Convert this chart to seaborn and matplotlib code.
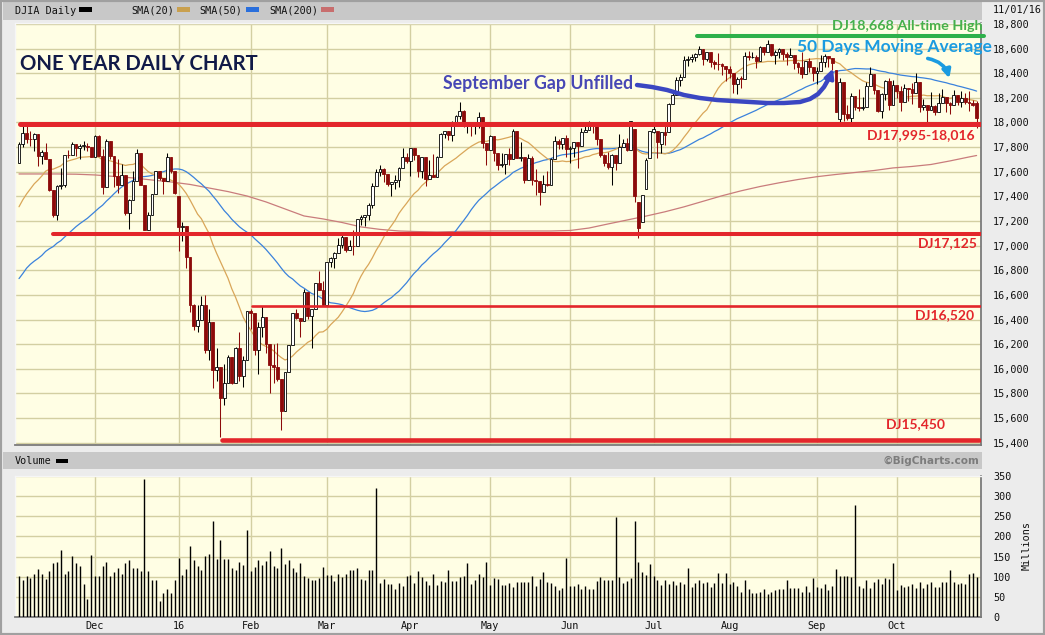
import numpy as np
import pandas as pd
import matplotlib
matplotlib.use("Agg")
import matplotlib.pyplot as plt
import seaborn as sns
from matplotlib.patches import Rectangle, FancyArrowPatch
from matplotlib.lines import Line2D

# ---------------- data (DJIA daily, Nov 2 2015 .. Nov 1 2016) ----------------
closes = [
    17828, 17918, 17867, 17863, 17910, 17730, 17758, 17702, 17448, 17245, 17484, 17490, 17738, 17733, 17824, 17792, 17813, 17813, 17798, 17720,
    17888, 17730, 17478, 17848, 17730, 17568, 17493, 17575, 17265, 17368, 17525, 17750, 17495, 17128, 17252, 17418, 17603, 17553, 17528, 17721, 17604, 17425,
    17149, 17158, 16907, 16515, 16347, 16399, 16516, 16152, 16380, 15988, 16016, 15766, 15882, 16094, 15886, 16167, 15944, 16069, 16466,
    16449, 16154, 16337, 16417, 16205, 16027, 16014, 15914, 15660, 15974, 16196, 16454, 16413, 16392, 16620, 16432, 16485, 16698, 16640, 16517,
    16866, 16900, 16944, 17007, 17074, 16964, 17001, 16995, 17213, 17229, 17251, 17326, 17481, 17602, 17623, 17583, 17502, 17516, 17536, 17633, 17717, 17685,
    17793, 17737, 17603, 17716, 17542, 17577, 17556, 17722, 17909, 17927, 17898, 18004, 18053, 18096, 17983, 18004, 17977, 17991, 18042, 17831, 17774,
    17891, 17751, 17652, 17661, 17741, 17706, 17928, 17711, 17721, 17535, 17711, 17530, 17527, 17436, 17501, 17493, 17706, 17851, 17828, 17873, 17787,
    17790, 17838, 17807, 17920, 17938, 18005, 17985, 17865, 17733, 17675, 17640, 17733, 17675, 17805, 17830, 17780, 18011, 17400, 17140, 17410, 17695, 17930,
    17949, 17841, 17919, 17896, 18147, 18226, 18348, 18372, 18506, 18517, 18534, 18559, 18595, 18518, 18571, 18493, 18474, 18473, 18456, 18432,
    18404, 18314, 18355, 18353, 18544, 18529, 18534, 18496, 18613, 18576, 18636, 18552, 18574, 18597, 18553, 18530, 18547, 18482, 18449, 18395, 18502, 18454, 18401,
    18419, 18492, 18538, 18526, 18480, 18085, 18326, 18067, 18034, 18212, 18124, 18120, 18129, 18293, 18392, 18261, 18094, 18228, 18339, 18143, 18308,
    18254, 18168, 18281, 18269, 18240, 18329, 18129, 18144, 18099, 18138, 18087, 18162, 18203, 18162, 18145, 18223, 18169, 18199, 18170, 18161, 18142, 18037,
]
opens = [
    17672, 17828, 17918, 17867, 17863, 17910, 17730, 17758, 17702, 17448, 17245, 17484, 17490, 17738, 17733, 17824, 17792, 17813, 17813, 17798,
    17720, 17888, 17730, 17478, 17848, 17730, 17568, 17493, 17575, 17265, 17368, 17525, 17750, 17495, 17128, 17252, 17418, 17603, 17553, 17528, 17721, 17604,
    17405, 17149, 17158, 16907, 16515, 16347, 16399, 16516, 16152, 16380, 15988, 16016, 15766, 15882, 16094, 15886, 16167, 15944, 16069,
    16466, 16449, 16154, 16337, 16417, 16205, 16027, 16014, 15914, 15660, 15974, 16196, 16454, 16413, 16392, 16620, 16432, 16485, 16698, 16640,
    16517, 16866, 16900, 16944, 17007, 17074, 16964, 17001, 16995, 17213, 17229, 17251, 17326, 17481, 17602, 17623, 17583, 17502, 17516, 17536, 17633, 17717,
    17685, 17793, 17737, 17603, 17716, 17542, 17577, 17556, 17722, 17909, 17927, 17898, 18004, 18053, 18096, 17983, 18004, 17977, 17991, 18042, 17831,
    17774, 17891, 17751, 17652, 17661, 17741, 17706, 17928, 17711, 17721, 17535, 17711, 17530, 17527, 17436, 17501, 17493, 17706, 17851, 17828, 17873,
    17787, 17790, 17838, 17807, 17920, 17938, 18005, 17985, 17865, 17733, 17675, 17640, 17733, 17675, 17805, 17830, 17780, 17946, 17355, 17190, 17456, 17712,
    17924, 17934, 17824, 17919, 17920, 18147, 18226, 18348, 18372, 18506, 18517, 18534, 18559, 18595, 18518, 18571, 18493, 18474, 18473, 18456,
    18432, 18404, 18314, 18355, 18353, 18544, 18529, 18534, 18496, 18613, 18576, 18636, 18552, 18574, 18597, 18553, 18530, 18547, 18482, 18449, 18395, 18502, 18454,
    18401, 18419, 18492, 18538, 18526, 18423, 18029, 18326, 18067, 18034, 18212, 18124, 18120, 18129, 18293, 18392, 18261, 18094, 18228, 18339, 18143,
    18308, 18254, 18168, 18281, 18269, 18240, 18329, 18129, 18144, 18099, 18138, 18087, 18162, 18203, 18162, 18145, 18223, 18169, 18199, 18170, 18161, 18158,
]
highs = [
    17838, 17978, 17978, 17932, 17914, 17910, 17780, 17835, 17702, 17450, 17490, 17629, 17740, 17780, 17842, 17824, 17824, 17847, 17830, 17798,
    17896, 17900, 17785, 17865, 17848, 17730, 17700, 17660, 17575, 17380, 17606, 17787, 17750, 17495, 17275, 17420, 17603, 17605, 17553, 17750, 17721, 17604,
    17405, 17195, 17158, 16907, 16529, 16520, 16592, 16599, 16482, 16380, 16172, 16016, 16038, 16110, 16094, 16176, 16296, 16102, 16466,
    16485, 16449, 16377, 16510, 16417, 16205, 16199, 16213, 15914, 15974, 16197, 16454, 16484, 16413, 16650, 16620, 16485, 16698, 16796, 16711,
    16866, 16911, 16947, 17063, 17099, 17074, 17049, 17130, 17220, 17245, 17251, 17350, 17512, 17620, 17652, 17631, 17583, 17516, 17576, 17640, 17791, 17755,
    17793, 17793, 17737, 17717, 17716, 17696, 17743, 17731, 17914, 17933, 17927, 18009, 18060, 18167, 18103, 18004, 18004, 18000, 18084, 18042, 17833,
    17900, 17891, 17751, 17755, 17741, 17789, 17949, 17928, 17843, 17721, 17741, 17727, 17621, 17527, 17573, 17607, 17713, 17891, 17867, 17873, 17899,
    17809, 17838, 17838, 17952, 17992, 18016, 18005, 17985, 17865, 17748, 17763, 17741, 17733, 17909, 17869, 17873, 18011, 17946, 17355, 17410, 17711, 17930,
    18002, 17934, 17924, 17975, 18160, 18259, 18371, 18393, 18537, 18538, 18555, 18561, 18622, 18595, 18572, 18571, 18508, 18561, 18483, 18456,
    18456, 18404, 18369, 18379, 18570, 18579, 18571, 18550, 18621, 18613, 18668, 18636, 18592, 18607, 18597, 18571, 18609, 18547, 18493, 18571, 18503, 18523, 18454,
    18451, 18552, 18560, 18538, 18526, 18423, 18359, 18326, 18143, 18240, 18212, 18270, 18211, 18326, 18450, 18392, 18261, 18238, 18344, 18358, 18342,
    18308, 18293, 18315, 18281, 18317, 18400, 18329, 18194, 18144, 18251, 18141, 18237, 18268, 18203, 18163, 18266, 18223, 18259, 18237, 18256, 18183, 18173,
]
lows = [
    17672, 17800, 17837, 17810, 17771, 17650, 17662, 17702, 17440, 17230, 17210, 17462, 17480, 17710, 17733, 17725, 17700, 17780, 17765, 17719,
    17720, 17725, 17420, 17478, 17700, 17480, 17430, 17493, 17250, 17138, 17368, 17525, 17490, 17128, 17128, 17252, 17418, 17537, 17420, 17528, 17590, 17421,
    16958, 17038, 16817, 16463, 16315, 16297, 16394, 16132, 16075, 15842, 15900, 15450, 15704, 15882, 15878, 15886, 15900, 15848, 16069,
    16326, 16108, 15960, 16258, 16130, 15804, 15882, 15899, 15503, 15660, 15974, 16196, 16405, 16262, 16392, 16404, 16165, 16485, 16640, 16510,
    16517, 16825, 16821, 16944, 16979, 16952, 16964, 16921, 16995, 17168, 17158, 17210, 17303, 17481, 17563, 17514, 17487, 17404, 17460, 17478, 17633, 17668,
    17568, 17692, 17556, 17552, 17484, 17542, 17556, 17555, 17722, 17878, 17857, 17848, 17981, 18030, 17963, 17915, 17892, 17905, 17954, 17793, 17651,
    17774, 17690, 17615, 17637, 17580, 17656, 17706, 17711, 17691, 17511, 17535, 17492, 17410, 17332, 17436, 17486, 17493, 17706, 17785, 17782, 17719,
    17669, 17719, 17632, 17807, 17920, 17938, 17915, 17814, 17723, 17644, 17625, 17496, 17615, 17675, 17805, 17770, 17780, 17356, 17063, 17190, 17456, 17712,
    17917, 17713, 17750, 17820, 17920, 18147, 18226, 18300, 18372, 18461, 18489, 18497, 18545, 18467, 18500, 18450, 18433, 18424, 18383, 18334,
    18360, 18241, 18231, 18284, 18353, 18510, 18520, 18440, 18496, 18545, 18576, 18540, 18476, 18520, 18511, 18465, 18530, 18434, 18401, 18363, 18395, 18409, 18339,
    18314, 18419, 18451, 18448, 18426, 18085, 18000, 18010, 18018, 18004, 18100, 18095, 18100, 18129, 18293, 18235, 18083, 18035, 18179, 18098, 18143,
    18202, 18090, 18168, 18176, 18154, 18240, 18085, 18104, 18000, 18099, 18059, 18087, 18162, 18086, 18072, 18145, 18145, 18127, 18150, 18090, 18130, 17959,
]
volumes = [
    101, 92, 101, 98, 107, 120, 107, 95, 113, 134, 137, 167, 107, 115, 152, 134, 127, 83, 45, 154,
    102, 102, 127, 137, 101, 112, 122, 107, 134, 142, 122, 122, 115, 342, 115, 91, 92, 40, 60, 69, 59, 92,
    147, 105, 120, 177, 142, 127, 117, 152, 157, 239, 145, 192, 145, 145, 122, 117, 137, 130, 216,
    115, 125, 142, 130, 140, 164, 127, 122, 172, 132, 142, 122, 112, 135, 102, 97, 92, 92, 97, 125,
    105, 105, 90, 107, 100, 107, 117, 117, 122, 95, 92, 117, 117, 320, 85, 95, 83, 83, 70, 85, 78, 102,
    105, 85, 115, 100, 90, 80, 107, 80, 90, 88, 117, 90, 90, 100, 102, 135, 83, 92, 107, 100, 137,
    80, 97, 95, 80, 80, 85, 75, 88, 87, 87, 88, 102, 78, 95, 111, 87, 84, 78, 68, 73, 147,
    78, 76, 83, 70, 78, 70, 70, 90, 100, 92, 92, 92, 249, 100, 84, 90, 97, 239, 137, 112, 105, 132,
    102, 92, 80, 92, 83, 90, 80, 88, 82, 122, 75, 85, 92, 85, 87, 75, 84, 109, 84, 109,
    82, 88, 76, 62, 92, 70, 59, 60, 62, 70, 58, 62, 66, 70, 70, 92, 72, 72, 72, 62, 77, 62, 96,
    75, 72, 82, 67, 77, 120, 102, 102, 102, 100, 279, 77, 72, 92, 72, 87, 95, 82, 97, 95, 135,
    66, 80, 75, 77, 82, 72, 87, 72, 82, 87, 75, 75, 87, 87, 117, 87, 82, 84, 82, 107, 110, 100,
]
# closes before the window (Aug 24 .. Oct 30 2015), only used for the SMA(20)/SMA(50) warm-up
prior_closes = [
    15871, 15666, 16285, 16655, 16643, 16528,
    16058, 16351, 16374, 16102, 16492, 16253, 16330, 16433, 16370, 16599, 16740, 16675, 16384, 16510, 16330, 16280, 16201, 16315, 16001, 16049, 16285,
    16272, 16472, 16776, 16790, 16912, 17050, 17084, 17131, 17082, 16924, 17141, 17216, 17230, 17217, 17169, 17489, 17647, 17623, 17581, 17780, 17756, 17664,
]
# SMA(200) every 5 sessions
sma200_day = list(range(0, 251, 5)) + [252]
sma200 = [17582, 17582, 17582, 17580, 17574, 17562, 17550, 17533, 17517, 17497, 17468, 17439, 17403, 17355, 17298, 17241,
          17217, 17188, 17152, 17132, 17119, 17114, 17111, 17115, 17117, 17119, 17119, 17119, 17119, 17123, 17143, 17176,
          17208, 17240, 17275, 17315, 17360, 17405, 17445, 17480, 17510, 17537, 17560, 17578, 17594, 17610, 17631, 17643,
          17659, 17688, 17720, 17732]
month_day = [20, 42, 61, 81, 103, 124, 145, 167, 187, 210, 231]
month_labels = ["Dec", "16", "Feb", "Mar", "Apr", "May", "Jun", "Jul", "Aug", "Sep", "Oct"]
price_ticks = list(range(15400, 18801, 200))
volume_ticks = list(range(0, 351, 50))
support_levels = [17985, 17098, 16512, 15420]
support_labels = ["DJ17,995-18,016", "DJ17,125", "DJ16,520", "DJ15,450"]
ath_level = 18703

# ---------------- style ----------------
sns.set_style("white")
plt.rcParams["font.family"] = ["DejaVu Sans"]

W, H = 1045, 635
fig = plt.figure(figsize=(W / 100, H / 100), dpi=100)
fig.patch.set_facecolor("#ececec")

MONO = "DejaVu Sans Mono"
ANN = ["Lato", "DejaVu Sans"]
RED = "#e3262b"
CANDLE_RED = "#8c0a0a"
GRID = "#d3cfa2"
BG = "#fffee4"


def rect_px(x0, y0, x1, y1, color, z=1):
    fig.add_artist(Rectangle((x0 / W, 1 - y1 / H), (x1 - x0) / W, (y1 - y0) / H,
                             transform=fig.transFigure, facecolor=color, edgecolor="none", zorder=z))


def text_px(x, y, s, **kw):
    return fig.text(x / W, 1 - y / H, s, **kw)


def dx(px):          # pixel column -> session index
    return (px - 19) / 3.8


# header bands
rect_px(3, 2, 982, 20, "#c8c8c8")
rect_px(3, 452, 982, 469, "#c8c8c8")
text_px(15, 10.5, "DJIA Daily", family=MONO, size=7.3, va="center", color="#111")
rect_px(79, 7.5, 92, 11.5, "black")
text_px(131, 10.5, "SMA(20)", family=MONO, size=7.3, va="center", color="#111")
rect_px(177, 7.5, 190, 11.5, "#c9a04e")
text_px(199, 10.5, "SMA(50)", family=MONO, size=7.3, va="center", color="#111")
rect_px(246, 7.5, 259, 11.5, "#2a6fdc")
text_px(269, 10.5, "SMA(200)", family=MONO, size=7.3, va="center", color="#111")
rect_px(321, 7.5, 334, 11.5, "#c86e6e")
text_px(993, 10, "11/01/16", family=MONO, size=7.3, va="center", color="#111")
text_px(15, 461, "Volume", family=MONO, size=7.3, va="center", color="#111")
rect_px(56, 459, 68, 463, "black")
text_px(979, 461, "\u00a9BigCharts.com", family="DejaVu Sans", weight="bold", size=7.6,
        va="center", ha="right", color="#7c7c7c")
text_px(1027, 546, "Millions", family=MONO, size=7.3, va="center", ha="center", rotation=90, color="#111")

# ---------------- price panel ----------------
df = pd.DataFrame({"day": np.arange(len(closes)), "open": opens, "high": highs,
                   "low": lows, "close": closes, "volume": volumes})
full = pd.Series(prior_closes + closes, dtype=float)
df["sma20"] = full.rolling(20).mean().iloc[len(prior_closes):].to_numpy()
df["sma50"] = full.rolling(50).mean().iloc[len(prior_closes):].to_numpy()

ax = fig.add_axes([15 / W, 1 - 445 / H, (981 - 15) / W, (445 - 23) / H])
ax.set_facecolor(BG)
xlim = (dx(15), dx(981))
ax.set_xlim(*xlim)
ax.set_ylim(15381, 18808)
ax.set_yticks(price_ticks)
ax.set_yticklabels([f"{v:,}" for v in price_ticks], family=MONO, size=7.3, color="#111")
ax.set_xticks(month_day)
ax.set_xticklabels([])
ax.yaxis.tick_right()
ax.tick_params(axis="y", length=0, pad=8.8)
ax.tick_params(axis="x", length=0)
ax.grid(True, color=GRID, lw=1.0)
ax.set_axisbelow(True)
for s in ("top", "left"):
    ax.spines[s].set_color("#f6f6f6")
    ax.spines[s].set_linewidth(1.0)
for s in ("bottom", "right"):
    ax.spines[s].set_color("#7a7a7a")
    ax.spines[s].set_linewidth(1.3)

sns.lineplot(data=pd.DataFrame({"day": sma200_day, "v": sma200}), x="day", y="v", ax=ax,
             color="#c97c7c", lw=0.9, zorder=2, estimator=None, sort=False)
sns.lineplot(data=df, x="day", y="sma50", ax=ax, color="#3b82dc", lw=0.9, zorder=2, estimator=None)
sns.lineplot(data=df, x="day", y="sma20", ax=ax, color="#d9a659", lw=0.9, zorder=2, estimator=None)
ax.set_xlabel("")
ax.set_ylabel("")

up = df["close"] >= df["open"]
wick_col = np.where(up, "black", CANDLE_RED)
ax.vlines(df["day"], df["low"], df["high"], colors=wick_col, lw=0.75, zorder=3)
body_bot = np.minimum(df["open"], df["close"])
body_h = np.maximum(np.abs(df["close"] - df["open"]), 5)
ax.bar(df["day"], body_h, bottom=body_bot, width=0.72,
       color=np.where(up, "white", CANDLE_RED), edgecolor=wick_col, linewidth=0.6, zorder=4)

# support / resistance lines
line_spans = [(20, 981, 3.6), (53, 981, 2.9), (252, 981, 1.9), (222, 979, 3.3)]
for lvl, (x0, x1, lw) in zip(support_levels, line_spans):
    ax.plot([dx(x0), dx(x1)], [lvl, lvl], color=RED, lw=lw, solid_capstyle="round", zorder=6)
ax.plot([dx(697), dx(984)], [ath_level, ath_level], color="#2db04b", lw=2.9,
        solid_capstyle="round", zorder=6, clip_on=False)

# labels
text_px(976, 135, support_labels[0], family=ANN, weight="bold", size=10, color=RED, ha="right", va="center")
text_px(978, 243, support_labels[1], family=ANN, weight="bold", size=10, color=RED, ha="right", va="center")
text_px(975, 315, support_labels[2], family=ANN, weight="bold", size=10, color=RED, ha="right", va="center")
text_px(946, 424, support_labels[3], family=ANN, weight="bold", size=10, color=RED, ha="right", va="center")
text_px(983, 26, "DJ18,668 All-time High", family=ANN, weight="bold", size=10.4, color="#46b04c", ha="right", va="center")
text_px(797, 47, "50 Days Moving Average", family=ANN, weight="bold", size=12.5, color="#1b9be0", ha="left", va="center")
text_px(443, 84, "September Gap Unfilled", family=ANN, weight="bold", size=12.8, color="#4747b5", ha="left", va="center")
text_px(20, 63.5, "ONE YEAR DAILY CHART", family=ANN, weight="bold", size=14.6, color="#111a48", ha="left", va="center")

# hand-drawn gap curve
gx = np.array([637, 652, 667, 684, 700, 717, 733, 750, 767, 784, 800, 810, 818, 824, 828])
gy = np.array([85, 87, 90, 95, 98, 100, 101, 102, 103, 103, 102, 99, 94, 87, 80])
fig.add_artist(Line2D(gx / W, 1 - gy / H, color="#3a46c2", lw=3.2, solid_capstyle="round",
                      solid_joinstyle="round", zorder=5))
fig.add_artist(FancyArrowPatch((828 / W, 1 - 82 / H), (834 / W, 1 - 66 / H), transform=fig.transFigure,
                               arrowstyle="-|>", mutation_scale=14, color="#3a46c2", lw=2.5, zorder=5))
# 50-day arrow
fig.add_artist(FancyArrowPatch((925 / W, 1 - 58 / H), (950 / W, 1 - 81 / H), transform=fig.transFigure,
                               connectionstyle="arc3,rad=-0.35", arrowstyle="-|>", mutation_scale=12,
                               color="#1b9be0", lw=2.6, zorder=5))

# ---------------- volume panel ----------------
vx = fig.add_axes([15 / W, 1 - 617 / H, (981 - 15) / W, (617 - 476) / H])
vx.set_facecolor(BG)
vx.set_xlim(*xlim)
vx.set_ylim(0, 350)
vx.set_yticks(volume_ticks)
vx.set_yticklabels([str(v) for v in volume_ticks], family=MONO, size=7.3, color="#111")
vx.yaxis.tick_right()
vx.set_xticks(month_day)
vx.set_xticklabels(month_labels, family=MONO, size=7.3, color="#111")
vx.tick_params(axis="y", length=0, pad=8.8)
vx.tick_params(axis="x", length=0, pad=3)
vx.grid(True, color=GRID, lw=1.0)
vx.set_axisbelow(True)
for s in ("top", "left"):
    vx.spines[s].set_color("#f6f6f6")
    vx.spines[s].set_linewidth(1.0)
for s in ("bottom", "right"):
    vx.spines[s].set_color("#7a7a7a")
    vx.spines[s].set_linewidth(1.3)
vx.vlines(df["day"], 0, df["volume"], colors="black", lw=1.0, zorder=3)

# outer frame
fig.add_artist(Rectangle((0, 0), 1, 1, transform=fig.transFigure, fill=False,
                         edgecolor="#a0a0a0", lw=3, zorder=10))

fig.savefig("out.png", dpi=100, facecolor=fig.get_facecolor())
